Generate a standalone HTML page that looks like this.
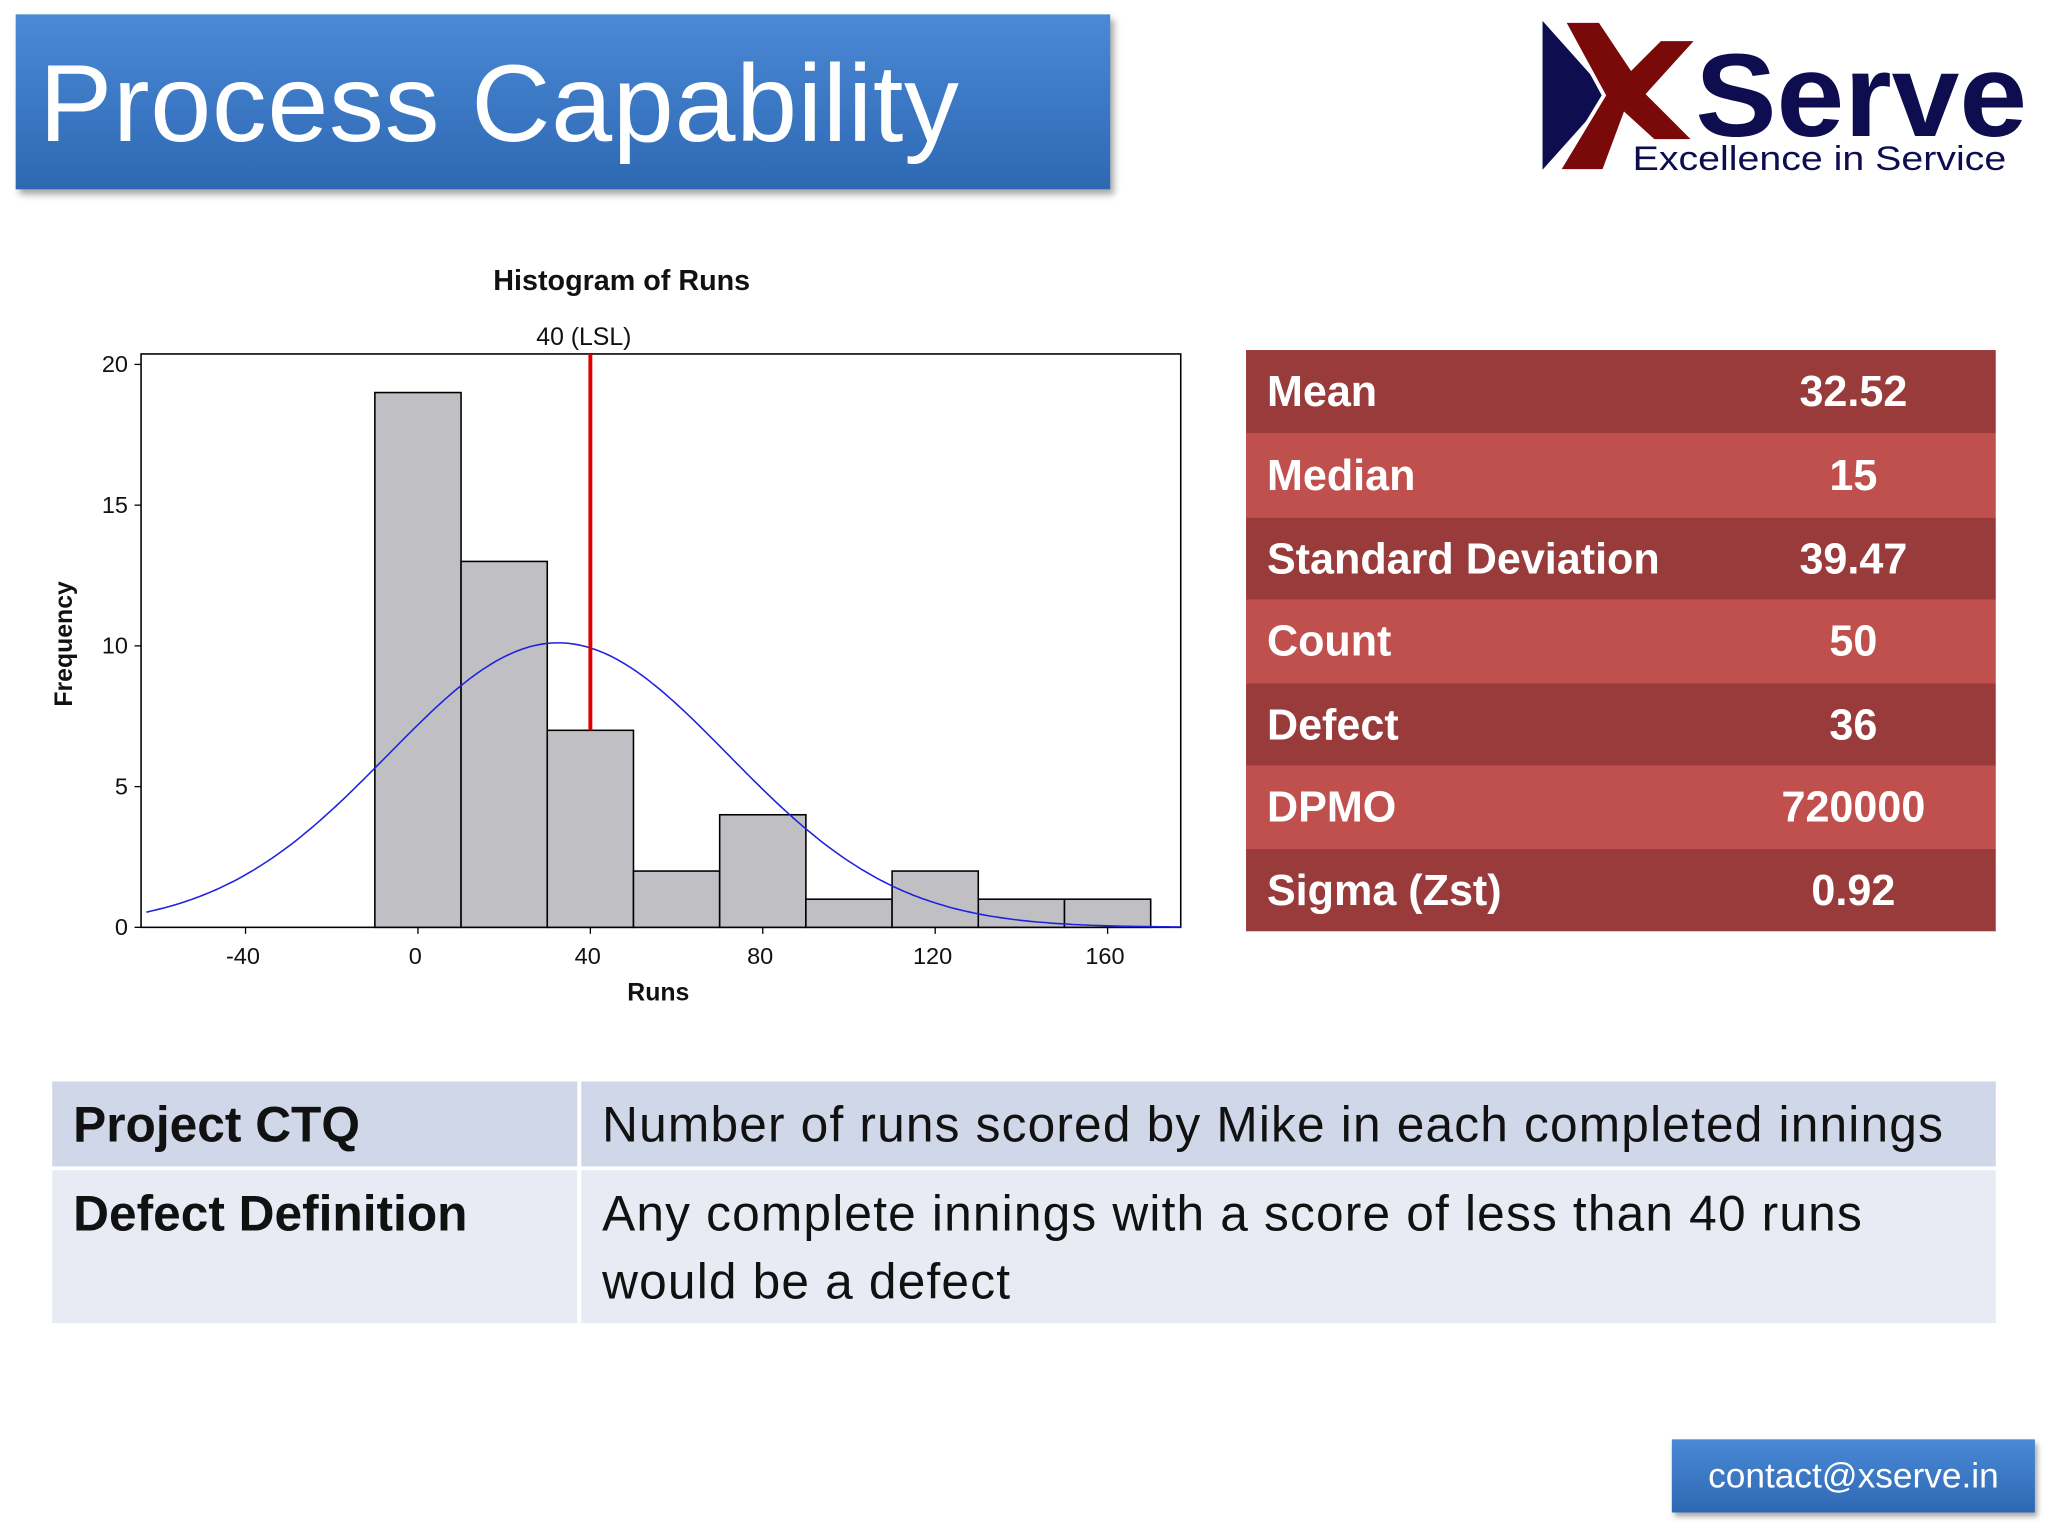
<!DOCTYPE html>
<html><head><meta charset="utf-8"><style>
html,body{margin:0;padding:0;background:#fff;overflow:hidden}
#stage{position:absolute;left:0;top:0;width:1568px;height:1176px;transform:scale(1.306122);transform-origin:0 0;font-family:"Liberation Sans",sans-serif}
.abs{position:absolute}
.row{position:absolute;left:954px;width:574px;height:64px;color:#fff;font-weight:bold;font-size:33px}
.row .k{position:absolute;left:16px;top:13px}
.row .v{position:absolute;left:390px;width:150px;text-align:center;top:13px}
</style></head><body>
<div id="stage">
<div class="abs" style="left:12px;top:11px;width:838px;height:134px;background:linear-gradient(#4a89d6,#2e68b3);box-shadow:3px 4px 5px rgba(0,0,0,0.35)">
<div class="abs" style="left:18px;top:20px;color:#fff;font-size:84px;white-space:nowrap;letter-spacing:0.5px">Process Capability</div></div>

<svg class="abs" style="left:1170px;top:10px" width="395" height="130">
<polygon points="11,6 62,63 11,120" fill="#0d0d4f"/>
<polygon points="27,6 55,6 79,42 101,20 130,20 92,62 128,98 96,98 74,78 58,121 23,121 58,63" fill="#7a0a0a" stroke="#fff" stroke-width="3"/>
<text x="128" y="94" font-size="90" font-weight="bold" fill="#0d0d4f" textLength="254" lengthAdjust="spacingAndGlyphs">Serve</text>
<text x="80" y="120" font-size="26" fill="#0d0d4f" textLength="286" lengthAdjust="spacingAndGlyphs">Excellence in Service</text>
</svg>

<svg class="abs" id="chart" style="left:0;top:180px" width="940" height="620"></svg>

<div>
<div class="row" style="top:268px;background:#993b3b"><span class="k">Mean</span><span class="v">32.52</span></div>
<div class="row" style="top:332px;background:#c0504d"><span class="k">Median</span><span class="v">15</span></div>
<div class="row" style="top:396px;background:#993b3b"><span class="k">Standard Deviation</span><span class="v">39.47</span></div>
<div class="row" style="top:459px;background:#c0504d"><span class="k">Count</span><span class="v">50</span></div>
<div class="row" style="top:523px;background:#993b3b"><span class="k">Defect</span><span class="v">36</span></div>
<div class="row" style="top:586px;background:#c0504d"><span class="k">DPMO</span><span class="v">720000</span></div>
<div class="row" style="top:650px;background:#993b3b;height:63px"><span class="k">Sigma (Zst)</span><span class="v">0.92</span></div>
</div>

<div style="font-size:38px;color:#111">
<div class="abs" style="left:40px;top:828px;width:402px;height:65px;background:#cfd7e8"><b class="abs" style="left:16px;top:13px">Project CTQ</b></div>
<div class="abs" style="left:445px;top:828px;width:1083px;height:65px;background:#cfd7e8"><span class="abs" style="left:16px;top:13px;white-space:nowrap;letter-spacing:0.9px">Number of runs scored by Mike in each completed innings</span></div>
<div class="abs" style="left:40px;top:896px;width:402px;height:117px;background:#e8ebf4"><b class="abs" style="left:16px;top:13px">Defect Definition</b></div>
<div class="abs" style="left:445px;top:896px;width:1083px;height:117px;background:#e8ebf4"><span class="abs" style="left:16px;top:8px;line-height:52px;letter-spacing:0.9px">Any complete innings with a score of less than 40 runs<br>would be a defect</span></div>
</div>

<div class="abs" style="left:1280px;top:1102px;width:278px;height:56px;background:linear-gradient(#4a89d6,#2e68b3);color:#fff;font-size:27px;text-align:center;line-height:56px;box-shadow:2px 3px 4px rgba(0,0,0,0.35)">contact@xserve.in</div>
</div>
<script>
const binStarts=[-10,10,30,50,70,90,110,130,150];
const binWidth=20;
const counts=[19,13,7,2,4,1,2,1,1];
const xTicks=[-40,0,40,80,120,160];
const yTicks=[0,5,10,15,20];
const mean=32.52, sd=39.47, n=50, lsl=40;
const svg=document.getElementById('chart');
const NS='http://www.w3.org/2000/svg';
const oy=180;
const X=v=>320+(v)*3.3;
const Y=v=>710-oy-v*21.55;
function mk(t,a,txt){const e=document.createElementNS(NS,t);for(const k in a)e.setAttribute(k,a[k]);if(txt!=null)e.textContent=txt;svg.appendChild(e);return e;}
let e;
e=mk('rect',{x:108,y:271-oy,width:796,height:439,fill:'#fff',stroke:'#000','stroke-width':1.2});


binStarts.forEach((b,i)=>{
 const r=mk('rect',{x:X(b),y:Y(counts[i]),width:X(b+binWidth)-X(b),height:Y(0)-Y(counts[i]),fill:'#c0bfc4',stroke:'#000','stroke-width':1.2});
 
 
});
let d='';
for(let v=-63;v<=177;v+=1){const f=n*binWidth/(sd*Math.sqrt(2*Math.PI))*Math.exp(-0.5*((v-mean)/sd)**2);d+=(d?'L':'M')+X(v).toFixed(1)+','+Y(f).toFixed(1);}
e=mk('path',{d:d,fill:'none',stroke:'#2020e0','stroke-width':1.2});


e=mk('line',{x1:X(lsl),x2:X(lsl),y1:271-oy,y2:Y(counts[2]),stroke:'#e00000','stroke-width':3});


e=mk('text',{x:X(lsl)-5,y:264-oy,'font-size':19,'text-anchor':'middle',fill:'#111'},lsl+' (LSL)');


xTicks.forEach(t=>{mk('line',{x1:X(t),x2:X(t),y1:Y(0),y2:Y(0)+5,stroke:'#000'});
 e=mk('text',{x:X(t)-2,y:Y(0)+28,'font-size':18,'text-anchor':'middle',fill:'#111'},t);
 
 });
yTicks.forEach(t=>{mk('line',{x1:103,x2:108,y1:Y(t),y2:Y(t),stroke:'#000'});
 e=mk('text',{x:98,y:Y(t)+6,'font-size':18,'text-anchor':'end',fill:'#111'},t);
 
 });
e=mk('text',{x:476,y:222-oy,'font-size':22,'font-weight':'bold','text-anchor':'middle',fill:'#111'},'Histogram of Runs');


e=mk('text',{x:504,y:766-oy,'font-size':19,'font-weight':'bold','text-anchor':'middle',fill:'#111'},'Runs');


e=mk('text',{x:0,y:0,'font-size':19,'font-weight':'bold','text-anchor':'middle',fill:'#111',transform:'translate(55,'+(493-oy)+') rotate(-90)'},'Frequency');


</script>
</body></html>
